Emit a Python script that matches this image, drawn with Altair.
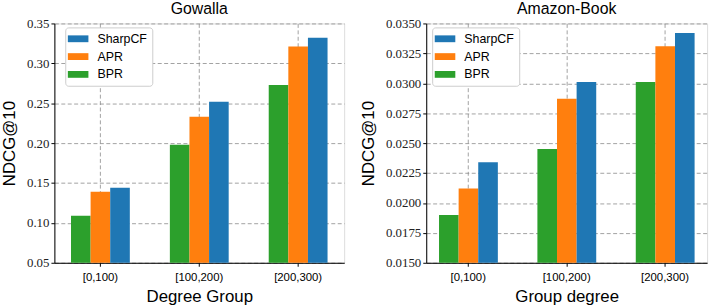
import altair as alt
import pandas as pd

groups = ["[0,100)", "[100,200)", "[200,300)"]
methods = ["BPR", "APR", "SharpCF"]
legend_order = ["SharpCF", "APR", "BPR"]
colors = ["#1f77b4", "#ff7f0e", "#2ca02c"]  # SharpCF, APR, BPR

gowalla_bpr = [0.109, 0.198, 0.273]
gowalla_apr = [0.139, 0.233, 0.321]
gowalla_sharp = [0.144, 0.252, 0.332]

amazon_bpr = [0.0190, 0.0245, 0.0301]
amazon_apr = [0.0212, 0.0287, 0.0331]
amazon_sharp = [0.0234, 0.0301, 0.0342]

gowalla_ticks = [0.05, 0.10, 0.15, 0.20, 0.25, 0.30, 0.35]
amazon_ticks = [0.0150, 0.0175, 0.0200, 0.0225, 0.0250, 0.0275, 0.0300, 0.0325, 0.0350]


def to_df(bpr, apr, sharp):
    rows = []
    for i, g in enumerate(groups):
        rows.append({"group": g, "method": "BPR", "value": bpr[i]})
        rows.append({"group": g, "method": "APR", "value": apr[i]})
        rows.append({"group": g, "method": "SharpCF", "value": sharp[i]})
    return pd.DataFrame(rows)


SANS = "Liberation Sans"
SERIF = "Liberation Serif"
rect_path = "M-1.6,-0.53L1.6,-0.53L1.6,0.53L-1.6,0.53Z"


def panel(df, title, xtitle, ticks, fmt, width, pad_outer, legend_x):
    return alt.Chart(df, title=alt.Title(title, fontSize=16, font=SANS, fontWeight="normal", offset=1)).mark_bar(clip=True).encode(
        x=alt.X("group:N", sort=groups, title=xtitle,
                scale=alt.Scale(paddingInner=0.405, paddingOuter=pad_outer),
                axis=alt.Axis(labelAngle=0, bandPosition=0.5, labelFont=SANS, labelFontSize=11.5,
                              titleFont=SANS, titleFontSize=17, titleFontWeight="normal",
                              grid=True, gridDash=[4, 2.5], gridColor="#8a8a8a", gridWidth=0.8,
                              tickColor="black", tickSize=3.5, labelPadding=5, titlePadding=6,
                              domainColor="black", labelColor="black", titleColor="black")),
        xOffset=alt.XOffset("method:N", sort=methods, scale=alt.Scale(domain=methods, paddingInner=0, paddingOuter=0)),
        y=alt.Y("value:Q", title="NDCG@10",
                scale=alt.Scale(domain=[ticks[0], ticks[-1]], nice=False, zero=False),
                axis=alt.Axis(values=ticks, format=fmt, labelFont=SERIF, labelFontSize=13,
                              titleFont=SANS, titleFontSize=17, titleFontWeight="normal",
                              grid=True, gridDash=[4, 2.5], gridColor="#8a8a8a", gridWidth=0.8,
                              tickColor="black", tickSize=3.5, labelPadding=2, titlePadding=8,
                              domainColor="black", labelColor="#222222", titleColor="black")),
        color=alt.Color("method:N", scale=alt.Scale(domain=legend_order, range=colors),
                        legend=alt.Legend(title=None, orient="none", legendX=legend_x, legendY=4,
                                          symbolType=rect_path, symbolSize=169, symbolOffset=1.5,
                                          symbolStrokeWidth=0, labelOffset=13, rowPadding=5,
                                          labelFont=SANS, labelFontSize=12.5, labelColor="black",
                                          padding=5, strokeColor="#cccccc", cornerRadius=3,
                                          fillColor="white")),
    ).properties(width=width, height=242)


left = panel(to_df(gowalla_bpr, gowalla_apr, gowalla_sharp), "Gowalla", "Degree Group",
             gowalla_ticks, ".2f", 293, 0.168, 11)
right = panel(to_df(amazon_bpr, amazon_apr, amazon_sharp), "Amazon-Book", "Group degree",
              amazon_ticks, ".4f", 284, 0.13, 6)

chart = alt.hconcat(left, right, spacing=14).resolve_scale(color="independent").resolve_legend(color="independent").properties(
    padding={"left": 0, "top": -2, "right": 8, "bottom": 0}
).configure_view(stroke="black", strokeWidth=1).configure(background="white")

chart.save("out.html", embed_options={"renderer": "svg", "actions": False})
